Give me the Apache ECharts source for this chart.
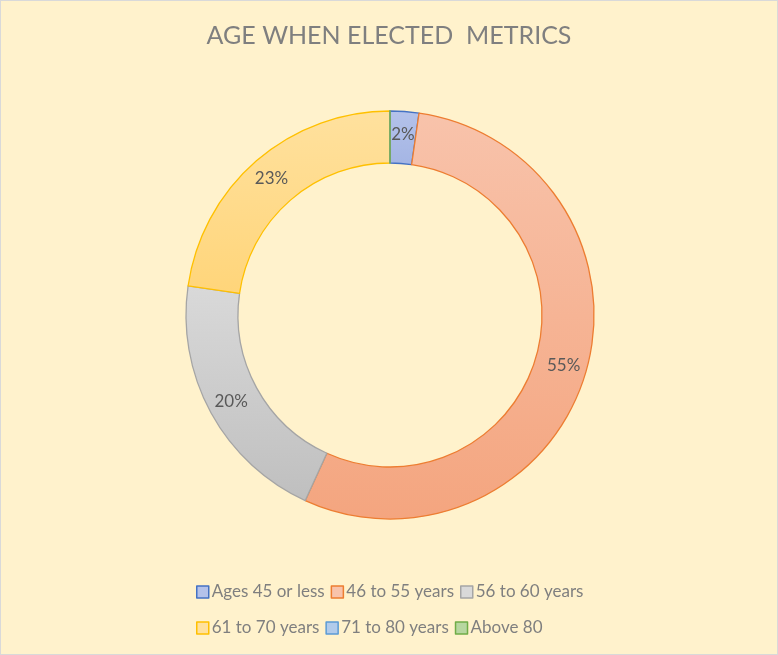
<!DOCTYPE html>
<html>
<head>
<meta charset="utf-8">
<script src="https://cdn.jsdelivr.net/npm/echarts@6/dist/echarts.min.js"></script>
<style>
  html, body { margin: 0; padding: 0; background: #ffffff; }
  #main { width: 776px; height: 653px; border: 1px solid #d9d9d9; background: #fff2cc; }
</style>
</head>
<body>
<div id="main"></div>
<script>
// age groups and number of people in each
const categories = ['Ages 45 or less', '46 to 55 years', '56 to 60 years', '61 to 70 years', '71 to 80 years', 'Above 80'];
const counts = [1, 24, 9, 10, 0, 0];
// fill gradient (top, bottom) and border colour per slice
const fillTop = ['#b4c2ea', '#f8c3ab', '#d9d9d9', '#ffe19e', '#b1cbeb', '#b7d7a0'];
const fillBottom = ['#a4b5e4', '#f4a57f', '#bfbfbf', '#ffd57a', '#9dc0e6', '#a9cf8f'];
const borders = ['#4472c4', '#ed7d31', '#a5a5a5', '#ffc000', '#5b9bd5', '#70ad47'];

const chart = echarts.init(document.getElementById('main'));

const pieData = categories.map(function (name, i) {
  return {
    name: name,
    value: counts[i],
    itemStyle: {
      color: new echarts.graphic.LinearGradient(0, 0, 0, 1, [
        { offset: 0, color: fillTop[i] },
        { offset: 1, color: fillBottom[i] }
      ]),
      borderColor: borders[i],
      borderWidth: 1.3
    }
  };
});

chart.setOption({
  backgroundColor: '#fff2cc',
  animation: false,
  title: {
    text: 'AGE WHEN ELECTED  METRICS',
    left: 'center',
    top: 17,
    textStyle: {
      fontFamily: 'Lato',
      fontSize: 25,
      fontWeight: 'normal',
      color: '#7f7f7f'
    }
  },
  legend: {
    left: 195,
    top: 576,
    width: 420,
    padding: 0,
    itemWidth: 12,
    itemHeight: 12,
    itemGap: 6,
    textStyle: {
      fontFamily: 'Lato',
      fontSize: 17,
      lineHeight: 30,
      color: '#7f7f7f',
      padding: [0, 0, 0, -2]
    },
    data: categories.map(function (name, i) {
      return {
        name: name,
        icon: 'rect',
        itemStyle: { color: fillTop[i], borderColor: borders[i], borderWidth: 1.5 }
      };
    })
  },
  series: [{
    type: 'pie',
    center: [389, 314],
    radius: [152, 204],
    startAngle: 90,
    clockwise: true,
    data: pieData,
    label: {
      show: true,
      position: 'inside',
      fontFamily: 'Lato',
      fontSize: 17,
      color: '#595959',
      formatter: function (p) {
        return p.value ? Math.round(p.percent) + '%' : '';
      }
    },
    labelLine: { show: false },
    emphasis: { disabled: true }
  }]
});
</script>
</body>
</html>
